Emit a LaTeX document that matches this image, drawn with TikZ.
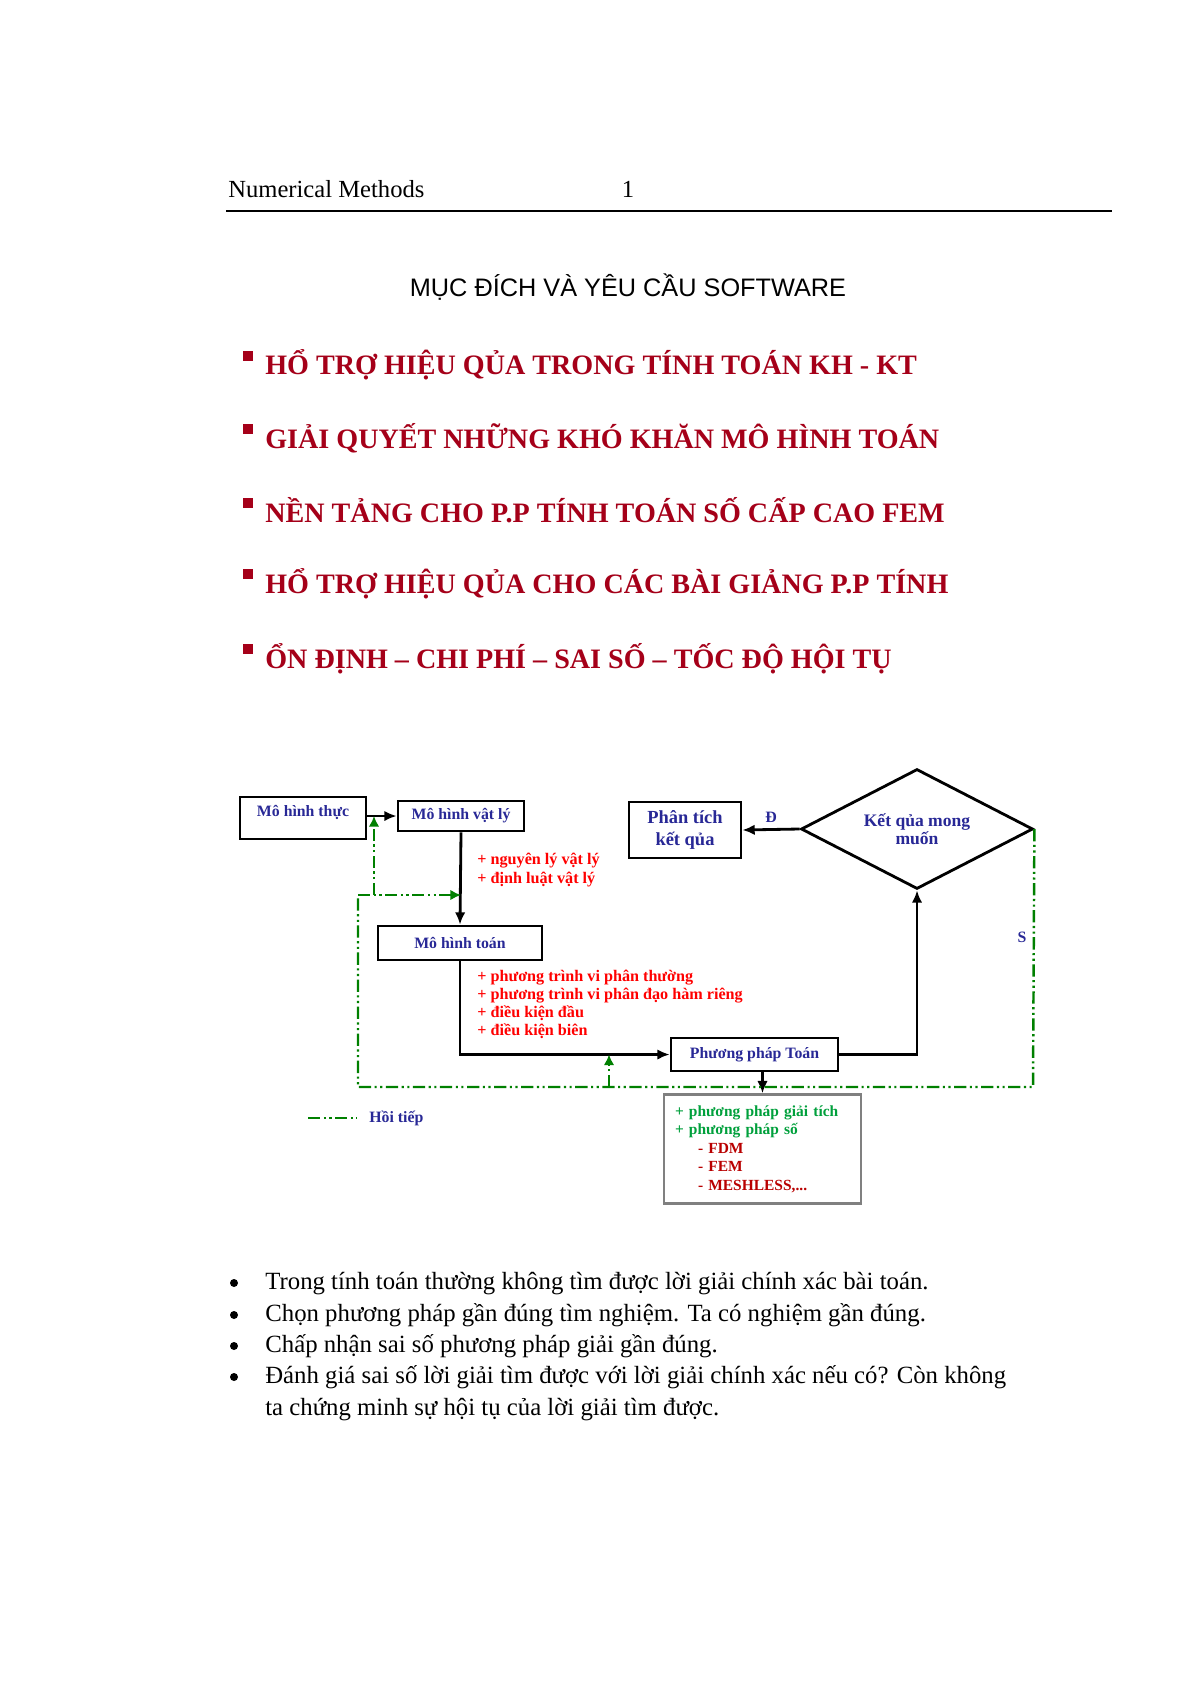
\documentclass[tikz,border=0pt]{standalone}
\usepackage{fontspec}
\setmainfont{Liberation Serif}
\newfontfamily\arialfont{Liberation Sans}
\usetikzlibrary{arrows,arrows.meta}
\usetikzlibrary{shapes.geometric}
\definecolor{myblue}{RGB}{40,40,150}
\definecolor{mygreen}{RGB}{0,128,0}
\definecolor{ltgreen}{RGB}{0,160,60}
\definecolor{dkred}{RGB}{165,0,25}
\definecolor{fdmred}{RGB}{185,0,0}

\begin{document}
\begin{tikzpicture}[x=0.02cm,y=-0.02cm,
  box/.style={draw,line width=1.6pt,inner sep=0pt,text=myblue,font=\bfseries\fontsize{9}{11}\selectfont},
  redtxt/.style={anchor=west,align=left,inner sep=0pt,text=red,font=\bfseries\fontsize{9.2}{10.3}\selectfont},
  head/.style={anchor=base west,inner sep=0pt,text=dkred,font=\bfseries\fontsize{16}{18}\selectfont},
  body/.style={anchor=base west,inner sep=0pt,align=left,font=\fontsize{14.1}{17.8}\selectfont},
  flow/.style={-{Latex[length=7pt,width=6pt]},line width=1.6pt},
  feed/.style={color=mygreen,line width=1.4pt,dash pattern=on 7pt off 2pt on 1.2pt off 2pt on 1.2pt off 2pt},
  feedtip/.style={-{Latex[length=6pt,width=6pt]}}]
\useasboundingbox[fill=white] (0,0) rectangle (1200,1696);

% header
\node[anchor=west,inner sep=0pt,font=\fontsize{14}{16}\selectfont] (hdr) at (228,189) {Numerical Methods};
\node[inner sep=0pt,font=\fontsize{14}{16}\selectfont] (pg) at (628,189) {1};
\coordinate (r1) at (226,211);
\coordinate (r2) at (1112,211);
\draw[line width=1.7pt] (r1) -- (r2);

\node[inner sep=0pt,font=\arialfont\fontsize{14.4}{16}\selectfont] (title) at (628,287) {MỤC ĐÍCH VÀ YÊU CẦU SOFTWARE};

% red bullet lines
\foreach \y/\t [count=\i] in {366/{HỔ TRỢ HIỆU QỦA TRONG TÍNH TOÁN KH - KT},
  439/{GIẢI QUYẾT NHỮNG KHÓ KHĂN MÔ HÌNH TOÁN},
  513/{NỀN TẢNG CHO P.P TÍNH TOÁN SỐ CẤP CAO FEM},
  584/{HỔ TRỢ HIỆU QỦA CHO CÁC BÀI GIẢNG P.P TÍNH},
  659/{ỔN ĐỊNH – CHI PHÍ – SAI SỐ – TỐC ĐỘ HỘI TỤ}}{
  \fill[dkred] (243,\y-15) rectangle (253,\y-5);
  \node[head] (h\i) at (265,\y+9) {\t};
}

% diagram
\node[box,minimum width=2.52cm,minimum height=0.84cm,label={[yshift=0.12cm,text=myblue,font=\bfseries\fontsize{9}{11}\selectfont]center:Mô hình thực}] (thuc) at (303,818) {};
\node[box,minimum width=2.52cm,minimum height=0.6cm] (vatly) at (461,816) {Mô hình vật lý};
\node[box,minimum width=3.28cm,minimum height=0.68cm] (toan) at (460,943) {Mô hình toán};
\node[box,minimum width=3.34cm,minimum height=0.66cm] (pptoan) at (754.5,1054.5) {Phương pháp Toán};
\node[box,diamond,aspect=2,minimum width=4.64cm,minimum height=2.4cm,align=center,font=\bfseries\fontsize{10}{10.5}\selectfont] (ketqua) at (917,829) {Kết qủa mong\\muốn};
\node[box,minimum width=2.24cm,minimum height=1.12cm,align=center,font=\bfseries\fontsize{10.5}{12.5}\selectfont] (phantich) at (685,830) {Phân tích\\kết qủa};
\node[draw=gray,line width=1.5pt,text width=3.5cm,inner sep=0.22cm,minimum height=2.16cm,align=left,
  font=\bfseries\fontsize{8.8}{10.5}\selectfont] (ppbox) at (762.5,1149)
  {\textcolor{ltgreen}{+ phương pháp giải tích}\\
   \textcolor{ltgreen}{+ phương pháp số}\\
   \hspace*{0.46cm}\textcolor{fdmred}{- FDM}\\
   \hspace*{0.46cm}\textcolor{fdmred}{- FEM}\\
   \hspace*{0.46cm}\textcolor{fdmred}{- MESHLESS,...}};

\node[redtxt] (lbl1) at (477,870) {+ nguyên lý vật lý\\+ định luật vật lý};
\node[redtxt] (lbl2) at (477,1004.5) {+ phương trình vi phân thường\\+ phương trình vi phân đạo hàm riêng\\+ điều kiện đầu\\+ điều kiện biên};

\draw[flow] (thuc.east |- vatly.west) -- (vatly.west);
\draw[flow] (vatly.south) -- (toan.north);
\draw[flow] (toan.south) |- (pptoan.west);
\draw[flow] (pptoan.east) -| (ketqua.south);
\draw[flow] (ketqua.west) -- (phantich.east) node[midway,above,text=myblue,font=\bfseries\fontsize{9}{10}\selectfont]{Đ};
\draw[flow] (ppbox.north |- pptoan.south) -- (ppbox.north);

% feedback
\coordinate (fA) at (1033,1087);
\coordinate (fB) at (358,1087);
\coordinate (fC) at (358,895);
\coordinate (fD) at (374,895);
\coordinate (fE) at (609,1087);
\draw[feed] (ketqua.east) -- (fA) -- (fB) -- (fC);
\draw[feed,feedtip] (fC) -- (vatly.south |- fC);
\draw[feed,feedtip] (fD) -- (fD |- vatly.west);
\draw[feed,feedtip] (fE) -- (fE |- pptoan.west);
\node[text=myblue,font=\bfseries\fontsize{9}{10}\selectfont] (s) at (1022,937) {S};

% legend
\coordinate (lg1) at (308,1118);
\coordinate (lg2) at (357,1118);
\draw[feed] (lg1) -- (lg2);
\node[anchor=west,inner sep=0pt,text=myblue,font=\bfseries\fontsize{9}{10}\selectfont] (hoitiep) at (369,1118) {Hồi tiếp};

% bottom bullets
\foreach \y in {1283,1315,1346,1377}
  \fill (234,\y) circle (4);
\node[body] (b1) at (265,1289) {Trong tính toán thường không tìm được lời giải chính xác bài toán.};
\node[body] (b2) at (265,1321) {Chọn phương pháp gần đúng tìm nghiệm. Ta có nghiệm gần đúng.};
\node[body] (b3) at (265,1352) {Chấp nhận sai số phương pháp giải gần đúng.};
\node[body] (b4) at (265,1415) {Đánh giá sai số lời giải tìm được với lời giải chính xác nếu có? Còn không\\ta chứng minh sự hội tụ của lời giải tìm được.};
\end{tikzpicture}
\end{document}
